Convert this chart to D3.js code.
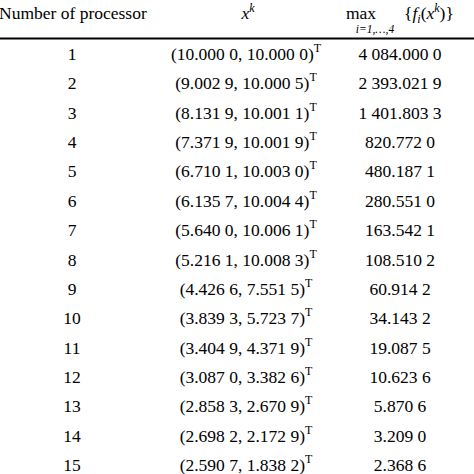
<!DOCTYPE html><html><head><meta charset="utf-8">
<script src="https://cdn.jsdelivr.net/npm/d3@7"></script>
<style>body{margin:0;background:#fff}svg{font-family:"Liberation Serif","Times New Roman",serif}</style></head><body>
<svg id="s" width="474" height="474"></svg>
<script>
const processors=[1,2,3,4,5,6,7,8,9,10,11,12,13,14,15];
const x1=["10.000 0","9.002 9","8.131 9","7.371 9","6.710 1","6.135 7","5.640 0","5.216 1","4.426 6","3.839 3","3.404 9","3.087 0","2.858 3","2.698 2","2.590 7"];
const x2=["10.000 0","10.000 5","10.001 1","10.001 9","10.003 0","10.004 4","10.006 1","10.008 3","7.551 5","5.723 7","4.371 9","3.382 6","2.670 9","2.172 9","1.838 2"];
const fmax=["4 084.000 0","2 393.021 9","1 401.803 3","820.772 0","480.187 1","280.551 0","163.542 1","108.510 2","60.914 2","34.143 2","19.087 5","10.623 6","5.870 6","3.209 0","2.368 6"];
const svg=d3.select("#s");
const y=d3.scaleLinear().domain([0,14]).range([60,471]);
const fs=17.5;
svg.append("text").attr("x",-1).attr("y",19).attr("font-size",fs).text("Number of processor");
const xh=svg.append("text").attr("x",248).attr("y",19).attr("font-size",fs).attr("text-anchor","middle");
xh.append("tspan").attr("font-style","italic").text("x");
xh.append("tspan").attr("font-style","italic").attr("font-size",12).attr("dy",-7).text("k");
svg.append("text").attr("x",361).attr("y",19).attr("font-size",fs).attr("text-anchor","middle").text("max");
svg.append("text").attr("x",375).attr("y",33).attr("font-size",11.5).attr("text-anchor","middle").attr("font-style","italic").text("i=1,…,4");
const fh=svg.append("text").attr("x",404).attr("y",19).attr("font-size",fs);
fh.append("tspan").text("{");
fh.append("tspan").attr("font-style","italic").text("f");
fh.append("tspan").attr("font-style","italic").attr("font-size",12).attr("dy",4).text("i");
fh.append("tspan").attr("dy",-4).text("(");
fh.append("tspan").attr("font-style","italic").text("x");
fh.append("tspan").attr("font-style","italic").attr("font-size",12).attr("dy",-7).text("k");
fh.append("tspan").attr("dy",7).text(")}");
svg.append("line").attr("x1",0).attr("x2",474).attr("y1",38.5).attr("y2",38.5).attr("stroke","#000").attr("stroke-width",2);
processors.forEach((p,i)=>{
  const yy=y(i);
  svg.append("text").attr("x",72).attr("y",yy).attr("font-size",fs).attr("text-anchor","middle").text(p);
  const t=svg.append("text").attr("x",246).attr("y",yy).attr("font-size",fs).attr("text-anchor","middle");
  t.append("tspan").text(`(${x1[i]}, ${x2[i]})`);
  t.append("tspan").attr("font-size",12).attr("dy",-8).text("T");
  svg.append("text").attr("x",400).attr("y",yy).attr("font-size",fs).attr("text-anchor","middle").text(fmax[i]);
});
</script></body></html>
